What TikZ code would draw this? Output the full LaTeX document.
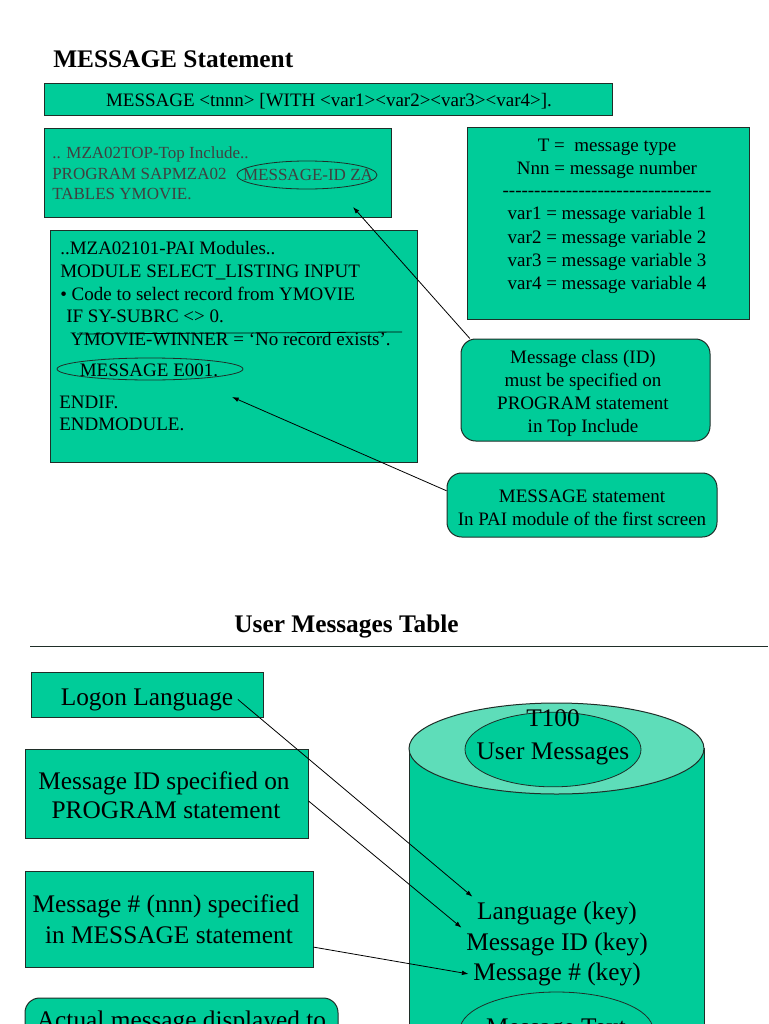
\documentclass[tikz,border=0pt]{standalone}
\usepackage{fontspec}
\setmainfont{Liberation Serif}
\usepackage{tikz}
\usetikzlibrary{positioning}
\usetikzlibrary{fit}
\usetikzlibrary{shapes.geometric}
\usetikzlibrary{arrows.meta}
\definecolor{msggreen}{HTML}{00CC99}
\definecolor{msglight}{HTML}{5EDDB9}
\definecolor{msgline}{HTML}{1F2E28}
\newcommand\titlefont{\fontsize{19pt}{22pt}\bfseries\selectfont}
\newcommand\codefont{\fontsize{14.25pt}{17pt}\selectfont}
\newcommand\incfont{\fontsize{12.75pt}{15pt}\selectfont}
\newcommand\slidefont{\fontsize{19pt}{22pt}\selectfont}

\begin{document}
\begin{tikzpicture}
  [
    x=0.75pt, y=-0.75pt,
    box/.style={draw=msgline, fill=msggreen, line width=0.75pt, inner sep=0pt},
    rbox/.style={box, rounded corners=11pt},
    oval/.style={ellipse, draw=msgline, line width=0.6pt, inner sep=0pt},
    code/.style={font=\codefont, anchor=base west, inner sep=0pt},
    inc/.style={code, font=\incfont, text=black!75},
    note/.style={font=\codefont, anchor=base},
    big/.style={font=\slidefont, anchor=base},
    ld/.style={draw=black, line width=0.6pt, -{Latex[length=5pt,width=3.5pt]}}
  ]
  \useasboundingbox (0,0) rectangle (768,1024);
  \clip (0,0) rectangle (768,1024);

  % MESSAGE statement
  \node (title) at (53,68) [anchor=base west, inner sep=0pt, font=\titlefont] {MESSAGE Statement};
  \node (syntax) [box, fit={(44,84) (612,115)}] {};
  \node (syntaxtxt) at (329,106) [note] {MESSAGE <tnnn> [WITH <var1><var2><var3><var4>].};

  \node (top) [box, fit={(44,128) (391,217)}] {};
  \node (top1) at (52,158) [inc] {.. MZA02TOP-Top Include..};
  \node (top2) at (52,179) [inc] {PROGRAM SAPMZA02};
  \node (top3) at (52,199) [inc] {TABLES YMOVIE.};
  \node (msgid) at (307,175) [oval, minimum width=105pt, minimum height=21pt] {};
  \node (msgidtxt) at (308,180) [note, font=\incfont, text=black!75] {MESSAGE-ID ZA};

  \node (legend) [box, fit={(467,127) (749,319)}] {};
  \node (lg1) at (607,151) [note] {T =~ message type};
  \node (lg2) at (607,174) [note] {Nnn = message number};
  \node (lg3) at (607,196) [note] {\foreach \d in {1,...,33}{-\kern0pt}};
  \node (lg4) at (607,219) [note] {var1 = message variable 1};
  \node (lg5) at (607,243) [note] {var2 = message variable 2};
  \node (lg6) at (607,266) [note] {var3 = message variable 3};
  \node (lg7) at (607,289) [note] {var4 = message variable 4};

  \node (pai) [box, fit={(50,230) (417,462)}] {};
  \node (pai1) at (60,254) [code] {..MZA02101-PAI Modules..};
  \node (pai2) at (60,277) [code] {MODULE SELECT\_LISTING INPUT};
  \node (pai3) at (60,300) [code] {• Code to select record from YMOVIE};
  \node (pai4) at (66,322) [code] {IF SY-SUBRC <> 0.};
  \node (pai5) at (70,345) [code] {YMOVIE-WINNER = ‘No record exists’.};
  \draw [line width=0.6pt] (77,334) -- (402,332);
  \node (e001) at (150,369) [oval, minimum width=139.5pt, minimum height=16.5pt] {};
  \node (e001txt) at (149,376) [note] {MESSAGE E001.};
  \node (pai6) at (59,408) [code] {ENDIF.};
  \node (pai7) at (59,430) [code] {ENDMODULE.};

  \node (cls) [rbox, fit={(461,339) (710,441)}] {};
  \node (cls1) at (583,363) [note] {Message class (ID)};
  \node (cls2) at (583,386) [note] {must be specified on};
  \node (cls3) at (583,409) [note] {PROGRAM statement};
  \node (cls4) at (583,432) [note] {in Top Include};

  \node (stmt) [rbox, fit={(447,473) (717,537)}] {};
  \node (stmt1) at (582,502) [note] {MESSAGE statement};
  \node (stmt2) at (582,525) [note] {In PAI module of the first screen};

  \coordinate (idtip) at (353,207);
  \coordinate (e001tip) at (232,397);
  \draw [ld] (cls.156) -- (idtip);
  \draw [ld] (stmt.174) -- (e001tip);

  % user messages table
  \node (title2) at (346.5,632) [anchor=base, font=\titlefont] {User Messages Table};
  \draw [line width=0.75pt, msgline] (30,646) -- (768,646);

  \node (logon) [box, fit={(31,672) (263,717)}] {};
  \node (logontxt) at (147,705) [big] {Logon Language};
  \node (idbox) [box, fit={(25,749) (308,838)}] {};
  \node (id1) at (164,789) [big] {Message ID specified on};
  \node (id2) at (166,818) [big] {PROGRAM statement};
  \node (numbox) [box, fit={(25,871) (313,967)}] {};
  \node (num1) at (166,912) [big] {Message \# (nnn) specified};
  \node (num2) at (169,943) [big] {in MESSAGE statement};
  \node (shown) [rbox, fit={(25,998) (338,1050)}] {};
  \node (showntxt) at (181.5,1028) [big] {Actual message displayed to};

  \fill [msggreen] (409,748) rectangle (704,1050);
  \draw [msgline, line width=0.75pt] (409,748) -- (409,1050) (704,748) -- (704,1050);
  \draw [msgline, line width=0.75pt, fill=msglight] (556.5,748.5) ellipse [x radius=147.5, y radius=45.5];
  \node (t100) at (553,749.5) [oval, fill=msggreen, minimum width=132pt, minimum height=56pt] {};
  \node (t100a) at (553,726) [big] {T100};
  \node (t100b) at (553,759) [big] {User Messages};
  \node (lang) at (557,919) [big] {Language (key)};
  \node (mid) at (557,950) [big] {Message ID (key)};
  \node (num) at (557,980) [big] {Message \# (key)};
  \node (msgtext) at (556.5,1030) [oval, fill=msggreen, minimum width=144.75pt, minimum height=57pt] {};
  \node (msgtexttxt) at (556,1035) [big] {Message Text};

  \draw [ld] (logontxt.east) -- (lang.north west);
  \draw [ld] (idbox.-3) -- (mid.north west);
  \draw [ld] (numbox.-11) -- (num.west);
\end{tikzpicture}
\end{document}
